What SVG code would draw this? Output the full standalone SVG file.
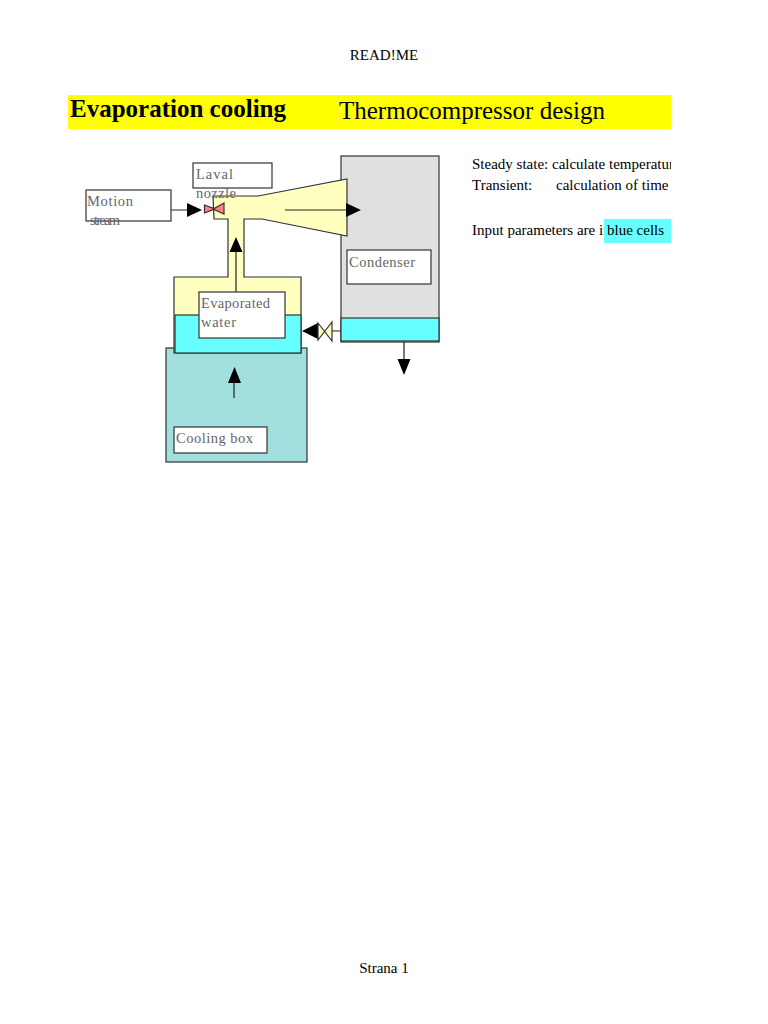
<svg xmlns="http://www.w3.org/2000/svg" width="768" height="1024" viewBox="0 0 768 1024">
<style>
.t{font-family:"Liberation Serif",serif;fill:#000}
.b{font-size:15px}
.l{font-family:"Liberation Serif",serif;font-size:14.500px;fill:#666}
.s{stroke:#333;stroke-width:1.2}
.w{fill:#fff}
.a{fill:#000;stroke:none}
.c{stroke:#222;stroke-width:1.2;fill:none}
</style>
<defs><clipPath id="page"><rect x="0" y="0" width="671" height="1024"/></clipPath></defs>
<rect width="768" height="1024" fill="#fff"/>
<g id="header">
<text class="t" x="384" y="60" font-size="15" text-anchor="middle">READ!ME</text>
<rect x="68" y="95" width="603" height="34" fill="#ffff00"/>
<text class="t" x="70" y="117" font-size="25" font-weight="bold">Evaporation cooling</text>
<text class="t" x="339" y="119" font-size="25">Thermocompressor design</text>
</g>
<g id="notes" clip-path="url(#page)">
<text class="t b" x="472" y="169">Steady state: calculate temperature</text>
<text class="t b" x="472" y="190">Transient:</text>
<text class="t b" x="556" y="190">calculation of time</text>
<text class="t b" x="472" y="235">Input parameters are in</text>
<rect x="604" y="219" width="67" height="24" fill="#66ffff"/>
<text class="t b" x="607" y="235">blue cells</text>
</g>
<g id="condenser">
<rect x="341" y="156" width="98" height="186" fill="#e0e0e0" class="s"/>
<rect x="341" y="318" width="98" height="23" fill="#66ffff" class="s"/>
<rect x="347" y="250" width="84" height="34" class="s w"/>
<text class="l" x="349" y="267" textLength="66">Condenser</text>
</g>
<g id="cooling-box">
<rect x="166" y="348" width="141" height="114" fill="#a2dfdf" class="s"/>
<rect x="174" y="427" width="93" height="26" class="s w"/>
<text class="l" x="176" y="443" textLength="77">Cooling box</text>
</g>
<g id="thermocompressor">
<path d="M213 196H258L347 179V236L262 219H244V277H301V353H174V277H228V219H214Z" fill="#ffffc0" class="s"/>
</g>
<g id="evaporator">
<rect x="175" y="315" width="126" height="38" fill="#66ffff" class="s"/>
</g>
<g id="connectors">
<path class="c" d="M171 210H188M285 210H347M236 251V292M234 383V398M332 331H341M404 342V360"/>
<path class="a" d="M187 203L202 210L187 217ZM346 203L361 210L346 217ZM236 237L229.500 252H242.500ZM234.500 367L228 383H241ZM302 331L318 323V339ZM397.500 359H410.500L404 375Z"/>
</g>
<g id="evaporated-water">
<rect x="199" y="292" width="86" height="46" class="s w"/>
<text class="l" x="201" y="308" textLength="69">Evaporated</text>
<text class="l" x="201" y="327" textLength="35">water</text>
</g>
<g id="motion-stream">
<rect x="86" y="190" width="85" height="31" class="s w"/>
<text class="l" x="87" y="206" textLength="46">Motion</text>
<text class="l" x="90" y="225" textLength="30">stream</text>
</g>
<g id="laval-nozzle">
<rect x="193" y="163" width="79" height="25" class="s w"/>
<text class="l" x="196" y="179" textLength="37">Laval</text>
<text class="l" x="196" y="198" textLength="40">nozzle</text>
<path d="M204.500 205L214 208.500L224 203V214L214 209.500L204.500 213Z" fill="#ff8080" class="s"/>
</g>
<g id="valve">
<path d="M318 323L332 341V322L318 340Z" fill="#ffffc0" class="s"/>
</g>
<g id="footer">
<text class="t" x="384" y="973" font-size="15" text-anchor="middle">Strana 1</text>
</g>
</svg>
